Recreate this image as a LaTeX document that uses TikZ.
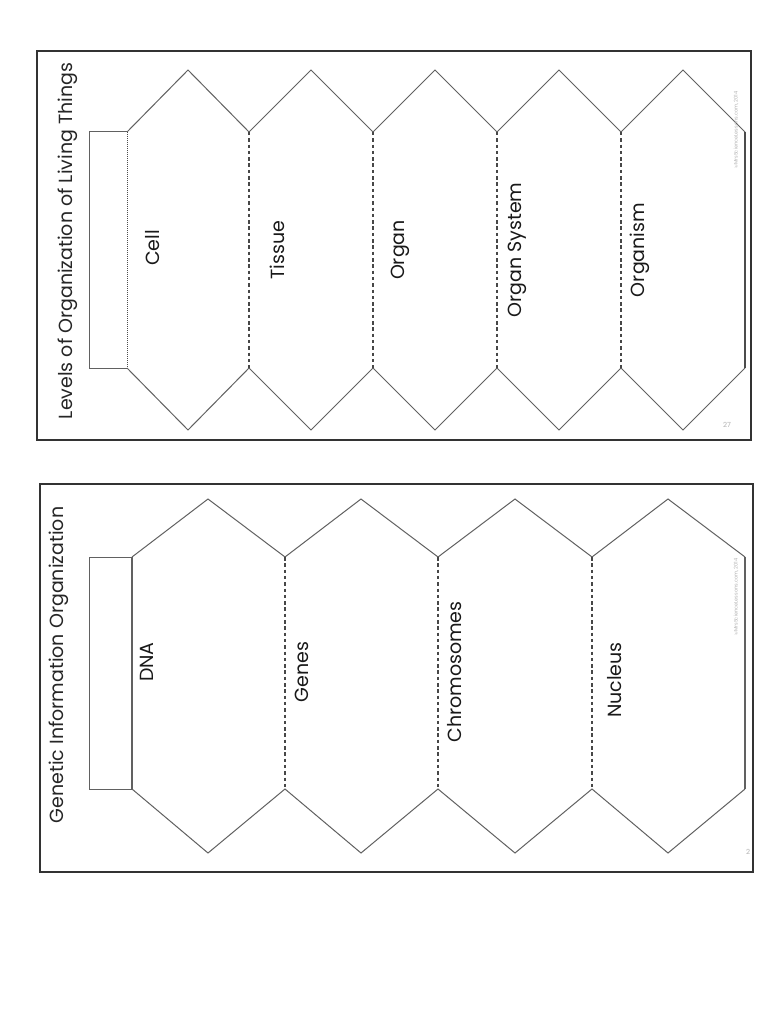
\documentclass[tikz,border=0pt]{standalone}
\usepackage{fontspec}
\setmainfont{Poppins}
\begin{document}
\begin{tikzpicture}
[
    x=1pt, y=-1pt,
    frame/.style={draw=black!80, line width=1.1pt},
    zigzag/.style={draw=black!62, line width=1pt, line join=miter},
    fold/.style={draw=black!72, line width=1.6pt, dash pattern=on 3.5pt off 2.8pt},
    title/.style={rotate=90, font=\fontsize{19}{19}\selectfont, text=black!85},
    tag/.style={rotate=90, font=\fontsize{19}{19}\selectfont, text=black!90},
    stamp/.style={font=\fontsize{5}{5}\selectfont, text=black!30},
]
\useasboundingbox[fill=white] (0,0) rectangle (768,1024);

% top sheet: levels of organization
\draw[frame] (37,51) rectangle (751,440);
\draw[zigzag] (127,132) -- (188,70) -- (249,132) -- (311,70) -- (373,132) -- (435,70)
    -- (497,132) -- (559,70) -- (621,132) -- (683,70) -- (745,132);
\draw[zigzag] (127,368) -- (188,430) -- (249,368) -- (311,430) -- (373,368) -- (435,430)
    -- (497,368) -- (559,430) -- (621,368) -- (683,430) -- (745,368);
\draw[zigzag] (127,132) -- (89,132) -- (89,368) -- (127,368);
\draw[draw=black!70, line width=1pt, dash pattern=on 1pt off 1pt] (127,132) -- (127,368);
\draw[fold] (249,132) -- (249,368);
\draw[fold] (373,132) -- (373,368);
\draw[fold] (497,132) -- (497,368);
\draw[fold] (621,132) -- (621,368);
\draw[draw=black!70, line width=2.4pt] (745,132) -- (745,368);

\node[title] (levels) at (68,241) {Levels of Organization of Living Things};
\node[tag] (cell) at (153,248) {Cell};
\node[tag] (tissue) at (277,250) {Tissue};
\node[tag] (organ) at (400,250) {Organ};
\node[tag] (system) at (517,250) {Organ System};
\node[tag] (organism) at (640,250) {Organism};
\node[stamp, rotate=90] (stampA) at (736,130) {©MrsScienceLessons.com, 2014};
\node[stamp, font=\fontsize{7}{7}\selectfont] (pageA) at (727,425) {27};

% bottom sheet: genetic information
\draw[frame] (40,484) rectangle (753,872);
\draw[zigzag] (132,557) -- (208,499) -- (285,557) -- (361,499) -- (438,557) -- (515,499)
    -- (592,557) -- (668,499) -- (745,557);
\draw[zigzag] (132,789) -- (208,853) -- (285,789) -- (361,853) -- (438,789) -- (515,853)
    -- (592,789) -- (668,853) -- (745,789);
\draw[zigzag] (132,557) -- (89,557) -- (89,789) -- (132,789);
\draw[draw=black!62, line width=1.4pt] (132,557) -- (132,789);
\draw[fold] (285,557) -- (285,789);
\draw[fold] (438,557) -- (438,789);
\draw[fold] (592,557) -- (592,789);
\draw[draw=black!62, line width=1.8pt] (745,557) -- (745,789);

\node[title] (genetic) at (59,665) {Genetic Information Organization};
\node[tag] (dna) at (147,662) {DNA};
\node[tag] (genes) at (302,672) {Genes};
\node[tag] (chromo) at (455,672) {Chromosomes};
\node[tag] (nucleus) at (615,680) {Nucleus};
\node[stamp, rotate=90] (stampB) at (736,597) {©MrsScienceLessons.com, 2014};
\node[stamp, font=\fontsize{7}{7}\selectfont] (pageB) at (748,852) {2};
\end{tikzpicture}
\end{document}
